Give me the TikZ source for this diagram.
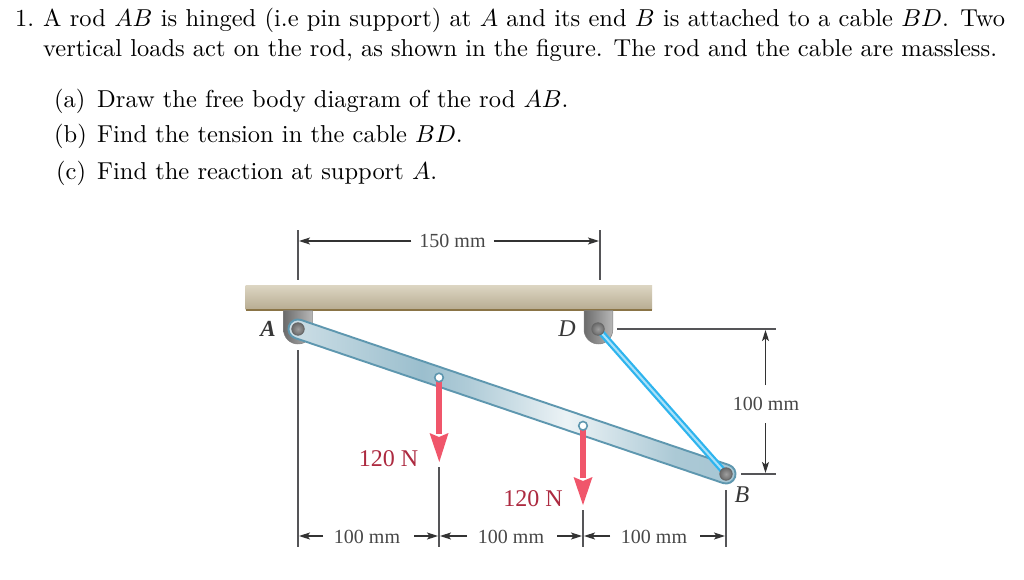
\RequirePackage{fix-cm}
\documentclass[tikz,border=0pt]{standalone}
\usepackage{fontspec}
\setmainfont{lmroman10-regular}[Extension=.otf]
\DeclareFontShape{OML}{cmm}{m}{it}{<->cmmi10}{}
\newfontfamily\figfont{Liberation Serif}
\usetikzlibrary{arrows.meta,calc}
\definecolor{dimgray}{HTML}{555558}
\definecolor{loadred}{HTML}{F0566B}
\definecolor{labelred}{HTML}{AD2A40}
\definecolor{rodedge}{HTML}{5E97AF}
\definecolor{cableblue}{HTML}{2EB4EE}
\definecolor{wallhi}{HTML}{DDD6C3}
\definecolor{walllo}{HTML}{B8AD93}
\definecolor{wallline}{HTML}{8A7446}
\pgfdeclarehorizontalshading{rodshade}{100bp}{
  color(0bp)=(rodedge!30!white);
  color(25bp)=(rodedge!30!white);
  color(40bp)=(rodedge!62!white);
  color(45bp)=(rodedge!50!white);
  color(56bp)=(rodedge!12!white);
  color(60bp)=(rodedge!25!white);
  color(68bp)=(rodedge!52!white);
  color(75bp)=(rodedge!55!white);
  color(100bp)=(rodedge!55!white)}
\tikzset{
  txt/.style={anchor=base west,inner sep=0pt,font=\fontsize{24.48}{31}\selectfont},
  dimtxt/.style={inner sep=0pt,font=\figfont\fontsize{20}{22}\selectfont,text=black!72},
  loadtxt/.style={inner sep=0pt,font=\figfont\fontsize{24}{26}\selectfont,text=labelred},
  ptlabel/.style={inner sep=0pt,font=\figfont\itshape\fontsize{24}{26}\selectfont,text=black!78},
  ext/.style={draw=dimgray,line width=1.5pt},
  dimarrow/.style={draw=black!80,line width=1.2pt,-{Stealth[length=11pt,width=7pt,inset=2.5pt]}},
  rodbody/.style={draw=rodedge,line width=1.9pt,rounded corners=9.5pt,minimum width=471pt,minimum height=19pt,inner sep=0pt,rotate=-18.72,transform shape,shading=rodshade},
  pinmark/.style={circle,draw=black!60,line width=.8pt,minimum size=12.5pt,inner sep=0pt,shade,inner color=black!38,outer color=black!58},
  loadpin/.style={circle,draw=rodedge,line width=1.6pt,fill=white,minimum size=8.6pt,inner sep=0pt},
  loadshaft/.style={draw=loadred,line width=6.2pt},
  loadhead/.style={fill=loadred},
  lug/.style={left color=black!58,right color=black!28,draw=black!50,line width=.5pt}
}
\begin{document}
\begin{tikzpicture}[x=1pt,y=-1pt]
\useasboundingbox (0,0) rectangle (1024,580);
\fill[white] (0,0) rectangle (1024,580);
% statement
\node[txt] (t0) at (15,27) {1.};
\node[txt] (t1) at (43,27) {\hbox to 962pt{A rod $AB$ is hinged (i.e pin support) at $A$ and its end $B$ is attached to a cable $BD$. Two}};
\node[txt] (t2) at (43,57) {vertical loads act on the rod, as shown in the figure. The rod and the cable are massless.};
\node[txt] (la) at (54,108) {(a)};
\node[txt] (lb) at (54,143) {(b)};
\node[txt] (lc) at (56,179) {(c)};
\node[txt] (ta) at (97,108) {Draw the free body diagram of the rod $AB$.};
\node[txt] (tb) at (97,143) {Find the tension in the cable $BD$.};
\node[txt] (tc) at (97,179) {Find the reaction at support $A$.};
% ceiling
\fill[top color=wallhi,bottom color=walllo] (245.5,285) rectangle (652,309);
\fill[wallline] (245.5,308.5) rectangle (652,310.5);
% lugs
\path[lug] (283.5,310.5) -- (283.5,329.6) arc[start angle=180,end angle=0,radius=14.4] -- (312.3,310.5) -- cycle;
\path[lug] (584,310.5) -- (584,329.6) arc[start angle=180,end angle=0,radius=14.4] -- (612.8,310.5) -- cycle;
% named points
\coordinate (A) at (298,329);
\coordinate (D) at (598,329);
\coordinate (B) at (726,474);
\coordinate (P1) at (439,377.5);
\coordinate (P2) at (583,425.8);
% extension lines
\coordinate (e1a) at (298,230); \coordinate (e1b) at (298,280);
\coordinate (e2a) at (600,230); \coordinate (e2b) at (600,280);
\coordinate (e3a) at (298,350); \coordinate (e3b) at (298,547);
\coordinate (e4a) at (439,467); \coordinate (e4b) at (439,547);
\coordinate (e5a) at (583,510); \coordinate (e5b) at (583,547);
\coordinate (e6a) at (726,490); \coordinate (e6b) at (726,547);
\coordinate (e7a) at (617,329); \coordinate (e7b) at (776,329);
\coordinate (e8a) at (741,474); \coordinate (e8b) at (776,474);
\draw[ext] (e1a) -- (e1b);
\draw[ext] (e2a) -- (e2b);
\draw[ext] (e3a) -- (e3b);
\draw[ext] (e4a) -- (e4b);
\draw[ext] (e5a) -- (e5b);
\draw[ext] (e6a) -- (e6b);
\draw[ext] (e7a) -- (e7b);
\draw[ext] (e8a) -- (e8b);
% rod, cable
\node[rodbody] (rod) at ($(A)!.5!(B)$) {};
\draw[cableblue,line width=6.5pt] (D) -- (B);
\draw[cableblue!40!white,line width=2pt] (D) -- (B);
% pins
\node[pinmark] (pinA) at (A) {};
\node[pinmark] (pinD) at (D) {};
\node[pinmark] (pinB) at (B) {};
% loads
\coordinate (h1) at (439,434);
\coordinate (h2) at (583,478);
\draw[loadshaft] (P1) -- (h1);
\fill[loadhead] (429.5,433) -- (439,437) -- (448.5,433) -- (439.3,462) -- cycle;
\draw[loadshaft] (P2) -- (h2);
\fill[loadhead] (573.5,477) -- (583,481) -- (592.5,477) -- (583,505) -- cycle;
\node[loadpin] (q1) at (P1) {};
\node[loadpin] (q2) at (P2) {};
% labels
\node[ptlabel,font=\figfont\bfseries\itshape\fontsize{23}{25}\selectfont] (lA) at (268,329) {A};
\node[ptlabel] (lD) at (567,329) {D};
\node[ptlabel] (lB) at (742,495) {B};
\node[loadtxt] (f1) at (388.5,458.5) {120 N};
\node[loadtxt] (f2) at (533,498.5) {120 N};
\node[dimtxt] (d150) at (452.5,241) {150 mm};
\node[dimtxt] (d1) at (367,537) {100 mm};
\node[dimtxt] (d2) at (511,537) {100 mm};
\node[dimtxt] (d3) at (654,537) {100 mm};
\node[dimtxt] (dv) at (766,404) {100 mm};
% dimension arrows
\coordinate (a1) at (299,241); \coordinate (a2) at (599,241);
\draw[dimarrow] ($(d150.west)+(-8,0)$) -- (a1);
\draw[dimarrow] ($(d150.east)+(8,0)$) -- (a2);
\coordinate (b1) at (299,536); \coordinate (b2) at (438,536);
\coordinate (b3) at (440,536); \coordinate (b4) at (582,536);
\coordinate (b5) at (584,536); \coordinate (b6) at (725,536);
\draw[dimarrow] (323,536) -- (b1);
\draw[dimarrow] (414,536) -- (b2);
\draw[dimarrow] (467,536) -- (b3);
\draw[dimarrow] (557,536) -- (b4);
\draw[dimarrow] (610,536) -- (b5);
\draw[dimarrow] (700,536) -- (b6);
\coordinate (c1) at (765.5,330); \coordinate (c2) at (765.5,473);
\draw[dimarrow] (765.5,385) -- (c1);
\draw[dimarrow] (765.5,423) -- (c2);
\end{tikzpicture}
\end{document}
